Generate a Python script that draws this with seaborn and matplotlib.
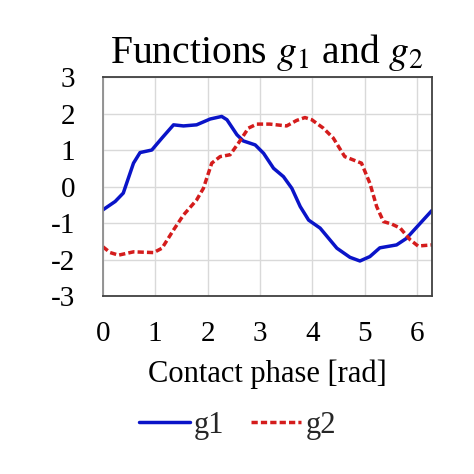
import numpy as np
import pandas as pd
import matplotlib
matplotlib.use("Agg")
import matplotlib.pyplot as plt
import seaborn as sns

g1_x = [0.0, 0.235, 0.39, 0.585, 0.71, 0.935, 1.13, 1.35, 1.54, 1.79, 2.05, 2.27, 2.37, 2.56, 2.68,
        2.91, 3.07, 3.26, 3.45, 3.61, 3.77, 3.93, 4.15, 4.47, 4.72, 4.91, 5.10, 5.29, 5.61, 5.80,
        6.06, 6.283]
g1_y = [-0.64, -0.41, -0.18, 0.64, 0.93, 1.0, 1.33, 1.69, 1.66, 1.69, 1.85, 1.92, 1.83, 1.42, 1.25,
        1.14, 0.91, 0.50, 0.27, -0.05, -0.55, -0.92, -1.14, -1.69, -1.94, -2.04, -1.92, -1.68, -1.60, -1.42,
        -1.01, -0.66]

g2_x = [0.0, 0.14, 0.30, 0.585, 0.97, 1.13, 1.35, 1.54, 1.79, 1.92, 2.08, 2.24, 2.43, 2.59, 2.78,
        2.94, 3.19, 3.51, 3.70, 3.86, 3.99, 4.21, 4.40, 4.62, 4.78, 4.94, 5.10, 5.23, 5.36, 5.52,
        5.68, 5.87, 6.02, 6.283]
g2_y = [-1.65, -1.81, -1.88, -1.79, -1.81, -1.69, -1.19, -0.78, -0.37, -0.05, 0.64, 0.82, 0.87, 1.19, 1.60,
        1.71, 1.71, 1.66, 1.81, 1.89, 1.83, 1.60, 1.33, 0.82, 0.73, 0.64, 0.09, -0.55, -0.96, -1.03,
        -1.14, -1.46, -1.63, -1.60]

x_ticks = [0, 1, 2, 3, 4, 5, 6]
y_ticks = [-3, -2, -1, 0, 1, 2, 3]

sns.set_theme(style="white")
plt.rcParams['font.family'] = ['Liberation Serif', 'DejaVu Serif']
plt.rcParams['mathtext.fontset'] = 'stix'

fig = plt.figure(figsize=(4.74, 4.74), dpi=100)
ax = fig.add_axes([0.217, 0.3755, 0.694, 0.462])

df1 = pd.DataFrame({"x": g1_x, "y": g1_y})
df2 = pd.DataFrame({"x": g2_x, "y": g2_y})
sns.lineplot(data=df1, x="x", y="y", ax=ax, color="#0a14c8", lw=2.5, label="g1", sort=False)
sns.lineplot(data=df2, x="x", y="y", ax=ax, color="#d41c1c", lw=2.5, label="g2", sort=False)
for ln in ax.lines:
    ln.set_solid_joinstyle("round")
    ln.set_dash_joinstyle("round")
ax.lines[1].set_dashes([1.8, 0.9])

ax.set_xlim(0, 2 * np.pi)
ax.set_ylim(-3, 3)
ax.set_xticks(x_ticks)
ax.set_yticks(y_ticks)
ax.set_xticklabels([str(t) for t in x_ticks])
ax.set_yticklabels([str(t) for t in y_ticks])
ax.grid(True, color="#d9d9d9", lw=1.0)
ax.tick_params(axis="both", length=0, labelsize=21, colors="black")
ax.tick_params(axis="x", pad=18)
ax.tick_params(axis="y", pad=20)
for name, sp in ax.spines.items():
    sp.set_visible(True)
    sp.set_color("#404040")
    sp.set_linewidth(1.3)
ax.spines['left'].set_color("#8c8c8c")

ax.set_xlabel("Contact phase [rad]", fontsize=22, color="black", labelpad=9)
ax.set_ylabel("")
ax.set_title(r"Functions $g_1$ and $g_2$", fontsize=28.5, color="black", pad=10, x=0.5)

leg = ax.legend(loc="upper center", bbox_to_anchor=(0.41, -0.40), ncol=2, frameon=False,
                fontsize=22, handlelength=1.65, handletextpad=0.15, columnspacing=0.85)

fig.savefig("out.png", dpi=100, facecolor="white")
